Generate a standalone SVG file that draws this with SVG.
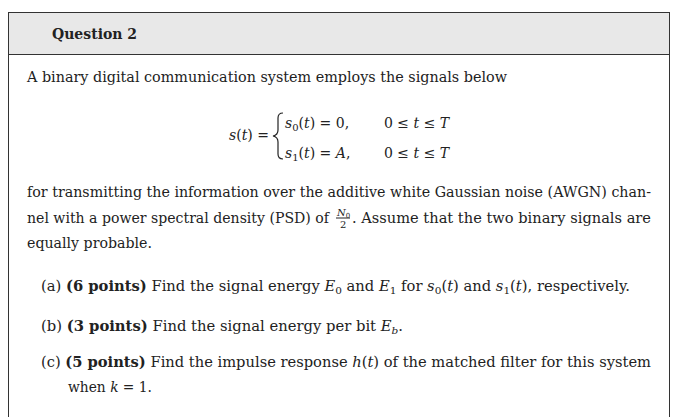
<svg xmlns="http://www.w3.org/2000/svg" width="681" height="417" viewBox="0 0 681 417">
<style>
text{font-family:"DejaVu Serif","Liberation Serif",serif;font-size:14px;fill:#222}
.i{font-style:italic}
.b{font-weight:bold}
.s{font-size:10px}
</style>
<rect x="0" y="0" width="681" height="417" fill="#fff"/>
<g id="box">
<rect x="8.5" y="12.5" width="661" height="42" fill="#e8e8e8" stroke="#333"/>
<path d="M8.5 54 V417 M669.5 54 V417" stroke="#333" fill="none"/>
<text x="52" y="39" class="b" font-size="14.5">Question 2</text>
</g>
<g id="body">
<text x="27" y="82" textLength="480" lengthAdjust="spacingAndGlyphs">A binary digital communication system employs the signals below</text>
<text x="229" y="140" class="i">s<tspan font-style="normal">(</tspan>t<tspan font-style="normal">) =</tspan></text>
<path d="M283 113 q-5 0 -5 5 v12 q0 5 -5 6 q5 1 5 6 v12 q0 5 5 5" stroke="#222" fill="none" stroke-width="1.2"/>
<text x="285" y="128" class="i">s<tspan class="s" font-style="normal" dy="3">0</tspan><tspan dy="-3" font-style="normal">(</tspan>t<tspan font-style="normal">) = 0,</tspan></text>
<text x="384" y="128">0 ≤ <tspan class="i">t</tspan> ≤ <tspan class="i">T</tspan></text>
<text x="285" y="158" class="i">s<tspan class="s" font-style="normal" dy="3">1</tspan><tspan dy="-3" font-style="normal">(</tspan>t<tspan font-style="normal">) = </tspan>A<tspan font-style="normal">,</tspan></text>
<text x="384" y="158">0 ≤ <tspan class="i">t</tspan> ≤ <tspan class="i">T</tspan></text>
<text x="27" y="197" textLength="624" lengthAdjust="spacingAndGlyphs">for transmitting the information over the additive white Gaussian noise (AWGN) chan-</text>
<text x="27" y="223" textLength="302" lengthAdjust="spacingAndGlyphs">nel with a power spectral density (PSD) of</text>
<text x="337" y="216" class="i s">N<tspan font-size="7" font-style="normal" dy="2">0</tspan></text>
<line x1="336" y1="218" x2="350" y2="218" stroke="#222"/>
<text x="340" y="228" class="s">2</text>
<text x="352" y="223" textLength="299" lengthAdjust="spacingAndGlyphs">. Assume that the two binary signals are</text>
<text x="27" y="248" textLength="125" lengthAdjust="spacingAndGlyphs">equally probable.</text>
<text x="41" y="291" textLength="589" lengthAdjust="spacingAndGlyphs">(a) <tspan class="b">(6 points)</tspan> Find the signal energy <tspan class="i">E</tspan><tspan class="s" dy="3">0</tspan><tspan dy="-3"> and </tspan><tspan class="i">E</tspan><tspan class="s" dy="3">1</tspan><tspan dy="-3"> for </tspan><tspan class="i">s</tspan><tspan class="s" dy="3">0</tspan><tspan dy="-3">(</tspan><tspan class="i">t</tspan>) and <tspan class="i">s</tspan><tspan class="s" dy="3">1</tspan><tspan dy="-3">(</tspan><tspan class="i">t</tspan>), respectively.</text>
<text x="41" y="331" textLength="362" lengthAdjust="spacingAndGlyphs">(b) <tspan class="b">(3 points)</tspan> Find the signal energy per bit <tspan class="i">E</tspan><tspan class="s i" dy="3">b</tspan><tspan dy="-3">.</tspan></text>
<text x="41" y="367" textLength="610" lengthAdjust="spacingAndGlyphs">(c) <tspan class="b">(5 points)</tspan> Find the impulse response <tspan class="i">h</tspan>(<tspan class="i">t</tspan>) of the matched filter for this system</text>
<text x="68" y="392" textLength="84" lengthAdjust="spacingAndGlyphs">when <tspan class="i">k</tspan> = 1.</text>
</g>
</svg>
